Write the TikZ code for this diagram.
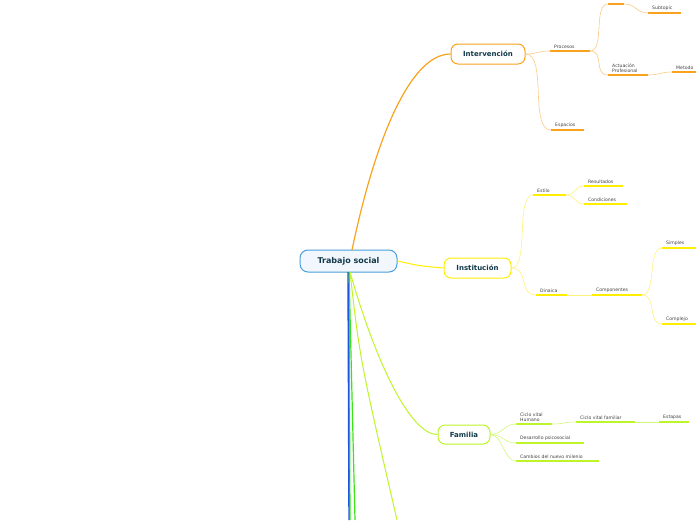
\documentclass[tikz,border=0pt]{standalone}
\usepackage{fontspec}
\setmainfont{DejaVu Sans}
\definecolor{cOr}{HTML}{F9A21E}
\definecolor{cOrL}{HTML}{FBCB84}
\definecolor{cYe}{HTML}{FFEE00}
\definecolor{cYeL}{HTML}{FFF27A}
\definecolor{cLi}{HTML}{BDF52A}
\definecolor{cLiL}{HTML}{D2F87A}
\definecolor{cGr}{HTML}{3EE21A}
\definecolor{cBl}{HTML}{1E55E0}
\definecolor{cBox}{HTML}{4A9EDB}
\definecolor{cTxt}{HTML}{123A4A}
\begin{document}
\begin{tikzpicture}[x=1pt,y=-1pt,
  mainbox/.style={draw=#1,line width=1pt,rounded corners=7pt,fill=white,font=\fontsize{7}{8}\selectfont\bfseries,text=cTxt,minimum height=20pt,inner xsep=0pt},
  subtxt/.style={font=\fontsize{4.6}{5.6}\selectfont,text=black!75,align=left,inner sep=0pt,anchor=south west},
  ul/.style={line width=1.2pt,draw=#1},
  cn/.style={line width=0.6pt,draw=#1}]
\useasboundingbox (0,0) rectangle (696,520);
\newcommand{\subt}[6]{%
  \coordinate (#1-l) at (#2,#4); \coordinate (#1-r) at (#3,#4);
  \draw[ul=#6] (#1-l) -- (#1-r);
  \node[subtxt] (#1) at ([xshift=4pt,yshift=2pt]#1-l) {#5};}
% main nodes
\node[mainbox=cBox,fill=cBox!8,minimum width=97pt,font=\fontsize{8}{9}\selectfont\bfseries,minimum height=22pt,rounded corners=8pt] (c) at (348.5,261) {Trabajo social};
\node[mainbox=cOr,minimum width=74pt] (int) at (488,54) {Intervención};
\node[mainbox=cYe,minimum width=67pt] (ins) at (477.5,268) {Institución};
\node[mainbox=cLi,minimum width=52pt,minimum height=19pt] (fam) at (464,434.5) {Familia};
% main connectors
\draw[line width=1.2pt,cOr] (352,250) .. controls (375,140) and (410,54) .. (int.west);
\draw[line width=1pt,cYe] (c.east) .. controls (420,266) .. (ins.west);
\draw[line width=1pt,cLi] (350,272) .. controls (375,360) and (410,435) .. (fam.west);
\coordinate (e1) at (397,520); \coordinate (e2) at (355,520);
\coordinate (e3) at (350,520); \coordinate (e4) at (349,520);
\draw[line width=1pt,cLi] (350,272) .. controls (360,360) .. (e1);
\draw[line width=1.2pt,cGr] (349,272) -- (e2);
\draw[line width=1.2pt,cGr] (349,272) -- (e3);
\draw[line width=1.4pt,cBl] (348,272) -- (e4);
% Intervencion
\subt{pro}{550}{590}{51}{Procesos}{cOr}
\subt{esp}{551}{584}{130}{Espacios}{cOr}
\subt{emp}{608}{624}{4}{}{cOr}
\subt{stp}{648}{681}{13}{Subtopic}{cOr}
\subt{act}{608}{648}{75}{Actuación\\Profesional}{cOr}
\subt{met}{672}{700}{72}{Metodo}{cOr}
\draw[cn=cOrL] (int.east) .. controls +(12,0) and +(-12,0) .. (pro-l);
\draw[cn=cOrL] (int.east) .. controls +(22,0) and +(-22,0) .. (esp-l);
\draw[cn=cOrL] (pro-r) .. controls +(15,0) and +(-15,0) .. (emp-l);
\draw[cn=cOrL] (pro-r) .. controls +(15,0) and +(-15,0) .. (act-l);
\draw[cn=cOrL] (emp-r) .. controls +(12,0) and +(-12,0) .. (stp-l);
\draw[cn=cOrL] (act-r) .. controls +(12,0) and +(-12,0) .. (met-l);
% Institucion
\subt{est}{533}{566}{195}{Estilo}{cYe}
\subt{res}{584}{623}{186}{Resultados}{cYe}
\subt{con}{584}{627}{204}{Condiciones}{cYe}
\subt{din}{536}{567}{295}{Dinaica}{cYe}
\subt{com}{592}{642}{295}{Componentes}{cYe}
\subt{sim}{662}{700}{248}{Simples}{cYe}
\subt{cpl}{662}{700}{324}{Complejo}{cYe}
\draw[cn=cYeL] (ins.east) .. controls +(18,0) and +(-18,0) .. (est-l);
\draw[cn=cYeL] (ins.east) .. controls +(18,0) and +(-18,0) .. (din-l);
\draw[cn=cYeL] (est-r) .. controls +(10,0) and +(-10,0) .. (res-l);
\draw[cn=cYeL] (est-r) .. controls +(10,0) and +(-10,0) .. (con-l);
\draw[cn=cYeL] (din-r) -- (com-l);
\draw[cn=cYeL] (com-r) .. controls +(15,0) and +(-15,0) .. (sim-l);
\draw[cn=cYeL] (com-r) .. controls +(15,0) and +(-15,0) .. (cpl-l);
% Familia
\subt{cvh}{516}{552}{424}{Ciclo vital\\Humano}{cLi}
\subt{cvf}{576}{635}{422}{Ciclo vital familiar}{cLi}
\subt{eta}{659}{689}{422}{Estapas}{cLi}
\subt{des}{516}{584}{443}{Desarrollo psicosocial}{cLi}
\subt{cam}{516}{599}{461}{Cambios del nuevo milenio}{cLi}
\draw[cn=cLiL] (fam.east) .. controls +(12,0) and +(-12,0) .. (cvh-l);
\draw[cn=cLiL] (fam.east) .. controls +(12,0) and +(-12,0) .. (des-l);
\draw[cn=cLiL] (fam.east) .. controls +(12,0) and +(-12,0) .. (cam-l);
\draw[cn=cLiL] (cvh-r) .. controls +(12,0) and +(-12,0) .. (cvf-l);
\draw[cn=cLiL] (cvf-r) .. controls +(12,0) and +(-12,0) .. (eta-l);
\end{tikzpicture}
\end{document}
